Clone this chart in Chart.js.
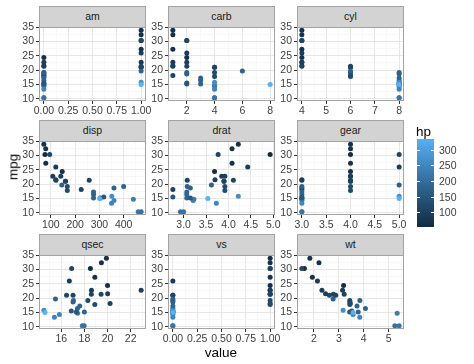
<!DOCTYPE html>
<html><head><meta charset="utf-8">
<script src="https://cdn.jsdelivr.net/npm/chart.js@4/dist/chart.umd.min.js"></script>
<style>
body{margin:0;background:#fff;}
#root{position:relative;width:474px;height:364px;overflow:hidden;font-family:"Liberation Sans",Arial,sans-serif;}
canvas{position:absolute;left:0;top:0;}
.strip{position:absolute;background:#D3D3D3;border:1px solid #A3A3A3;box-sizing:border-box;color:#1A1A1A;font-size:10.5px;text-align:center;line-height:19px;}
.lbl{position:absolute;white-space:nowrap;}
</style></head><body>
<div id="root"></div>
<script>
// ---- mtcars data ----
const mpg  = [21.0,21.0,22.8,21.4,18.7,18.1,14.3,24.4,22.8,19.2,17.8,16.4,17.3,15.2,10.4,10.4,14.7,32.4,30.4,33.9,21.5,15.5,15.2,13.3,19.2,27.3,26.0,30.4,15.8,19.7,15.0,21.4];
const cyl  = [6,6,4,6,8,6,8,4,4,6,6,8,8,8,8,8,8,4,4,4,4,8,8,8,8,4,4,4,8,6,8,4];
const disp = [160,160,108,258,360,225,360,146.7,140.8,167.6,167.6,275.8,275.8,275.8,472,460,440,78.7,75.7,71.1,120.1,318,304,350,400,79,120.3,95.1,351,145,301,121];
const hp   = [110,110,93,110,175,105,245,62,95,123,123,180,180,180,205,215,230,66,52,65,97,150,150,245,175,66,91,113,264,175,335,109];
const drat = [3.90,3.90,3.85,3.08,3.15,2.76,3.21,3.69,3.92,3.92,3.92,3.07,3.07,3.07,2.93,3.00,3.23,4.08,4.93,4.22,3.70,2.76,3.15,3.73,3.08,4.08,4.43,3.77,4.22,3.62,3.54,4.11];
const wt   = [2.620,2.875,2.320,3.215,3.440,3.460,3.570,3.190,3.150,3.440,3.440,4.070,3.730,3.780,5.250,5.424,5.345,2.200,1.615,1.835,2.465,3.520,3.435,3.840,3.845,1.935,2.140,1.513,3.170,2.770,3.570,2.780];
const qsec = [16.46,17.02,18.61,19.44,17.02,20.22,15.84,20.00,22.90,18.30,18.90,17.40,17.60,18.00,17.98,17.82,17.42,19.47,18.52,19.90,20.01,16.87,17.30,15.41,17.05,18.90,16.70,16.90,14.50,15.50,14.60,18.60];
const vs   = [0,0,1,1,0,1,0,1,1,1,1,0,0,0,0,0,0,1,1,1,1,0,0,0,0,1,0,1,0,0,0,1];
const am   = [1,1,1,0,0,0,0,0,0,0,0,0,0,0,0,0,0,1,1,1,0,0,0,0,0,1,1,1,1,1,1,1];
const gear = [4,4,4,3,3,3,3,4,4,4,4,3,3,3,3,3,3,4,4,4,3,3,3,3,3,4,5,5,5,5,5,4];
const carb = [4,4,1,1,2,1,4,2,2,4,4,3,3,3,4,4,4,1,2,1,1,2,2,4,2,1,2,2,4,6,8,2];

const facetNames = ['am','carb','cyl','disp','drat','gear','qsec','vs','wt'];
// tick labels per facet
const amTicks   = ['0.00','0.25','0.50','0.75','1.00'];
const carbTicks = ['2','4','6','8'];
const cylTicks  = ['4','5','6','7','8'];
const dispTicks = ['100','200','300','400'];
const dratTicks = ['3.0','3.5','4.0','4.5','5.0'];
const gearTicks = ['3.0','3.5','4.0','4.5','5.0'];
const qsecTicks = ['16','18','20','22'];
const vsTicks   = ['0.00','0.25','0.50','0.75','1.00'];
const wtTicks   = ['2','3','4','5'];
const yTicks    = ['10','15','20','25','30','35'];
const hpTicks   = ['100','150','200','250','300'];

const facetData = {am, carb, cyl, disp, drat, gear, qsec, vs, wt};
const facetTicks = {am:amTicks, carb:carbTicks, cyl:cylTicks, disp:dispTicks, drat:dratTicks, gear:gearTicks, qsec:qsecTicks, vs:vsTicks, wt:wtTicks};

// ---- colour scale (ggplot2 default: #132B43 -> #56B1F7 in CIELAB) ----
function hex2rgb(h){return [parseInt(h.slice(1,3),16),parseInt(h.slice(3,5),16),parseInt(h.slice(5,7),16)];}
function rgb2lab(c){
  const lin=c.map(v=>{v/=255;return v<=0.04045?v/12.92:Math.pow((v+0.055)/1.055,2.4);});
  const X=(0.4124564*lin[0]+0.3575761*lin[1]+0.1804375*lin[2])/0.95047;
  const Y=(0.2126729*lin[0]+0.7151522*lin[1]+0.0721750*lin[2]);
  const Z=(0.0193339*lin[0]+0.1191920*lin[1]+0.9503041*lin[2])/1.08883;
  const f=t=>t>0.008856?Math.cbrt(t):7.787*t+16/116;
  const fx=f(X),fy=f(Y),fz=f(Z);
  return [116*fy-16,500*(fx-fy),200*(fy-fz)];
}
function lab2rgb(l){
  const fy=(l[0]+16)/116, fx=fy+l[1]/500, fz=fy-l[2]/200;
  const inv=f=>{const c=f*f*f;return c>0.008856?c:(f-16/116)/7.787;};
  const X=inv(fx)*0.95047, Y=inv(fy), Z=inv(fz)*1.08883;
  const r=3.2404542*X-1.5371385*Y-0.4985314*Z;
  const g=-0.9692660*X+1.8760108*Y+0.0415560*Z;
  const b=0.0556434*X-0.2040259*Y+1.0572252*Z;
  const gm=c=>{c=c<=0.0031308?12.92*c:1.055*Math.pow(c,1/2.4)-0.055;return Math.round(Math.max(0,Math.min(1,c))*255);};
  return 'rgb('+gm(r)+','+gm(g)+','+gm(b)+')';
}
const labLo=rgb2lab(hex2rgb('#132B43')), labHi=rgb2lab(hex2rgb('#56B1F7'));
const hpMin=Math.min(...hp), hpMax=Math.max(...hp);
function hpColor(v){const t=(v-hpMin)/(hpMax-hpMin);return lab2rgb(labLo.map((a,i)=>a+(labHi[i]-a)*t));}

// ---- layout ----
const W=474,H=364;
const colLeft=[39,168,297], panelW=107;
const stripTop=[6,120,234], stripH=21, panelH=74;
const yAxisW=24, xAxisH=14;
Chart.defaults.font.family='"Liberation Sans", Arial, sans-serif';

const root=document.getElementById('root');
function yr(){const lo=Math.min(...mpg),hi=Math.max(...mpg),e=(hi-lo)*0.05;return [lo-e,hi+e];}
const [yMin,yMax]=yr();

function buildTicks(majors, lo, hi){
  const step=majors.length>1?majors[1]-majors[0]:1;
  const out=[];
  majors.forEach(v=>out.push({value:v,minor:false}));
  for(let v=majors[0]-step/2; v<=majors[majors.length-1]+step/2+1e-9; v+=step){
    if(v>=lo-1e-9&&v<=hi+1e-9) out.push({value:+v.toFixed(6),minor:true});
  }
  return out.sort((a,b)=>a.value-b.value);
}

const borderPlugin={id:'pborder',afterDraw(chart){const a=chart.chartArea,c=chart.ctx;c.save();c.strokeStyle='#A3A3A3';c.lineWidth=1;c.strokeRect(a.left+0.5,a.top+0.5,a.right-a.left-1,a.bottom-a.top-1);c.restore();}};

facetNames.forEach((name,i)=>{
  const col=i%3,row=Math.floor(i/3);
  const left=colLeft[col], top=stripTop[row]+stripH, right=left+panelW, bottom=top+panelH;
  // strip
  const s=document.createElement('div');s.className='strip';
  s.style.left=left+'px';s.style.top=stripTop[row]+'px';s.style.width=panelW+'px';s.style.height=(stripH+1)+'px';
  s.textContent=name;root.appendChild(s);
  const xs=facetData[name];
  const lo=Math.min(...xs),hi=Math.max(...xs),e=(hi-lo)*0.05;
  const xMin=lo-e,xMax=hi+e;
  const xMaj=facetTicks[name].map(Number);
  const yMaj=yTicks.map(Number);
  const cv=document.createElement('canvas');cv.width=W;cv.height=H;root.appendChild(cv);
  const pts=xs.map((x,k)=>({x:x,y:mpg[k]}));
  const cols=hp.map(hpColor);
  const xLabel=(v)=>{const idx=xMaj.findIndex(m=>Math.abs(m-v)<1e-9);return idx>=0?facetTicks[name][idx]:'';};
  const yLabel=(v)=>{const idx=yMaj.findIndex(m=>Math.abs(m-v)<1e-9);return idx>=0?yTicks[idx]:'';};
  new Chart(cv,{
    type:'scatter',
    data:{datasets:[{data:pts,pointBackgroundColor:cols,pointBorderWidth:0,pointRadius:2.5,pointHoverRadius:2.5}]},
    options:{
      responsive:false,animation:false,devicePixelRatio:1,
      layout:{padding:{left:left-yAxisW,top:top,right:W-right,bottom:H-bottom-xAxisH}},
      plugins:{legend:{display:false},tooltip:{enabled:false}},
      events:[],
      scales:{
        x:{type:'linear',min:xMin,max:xMax,
          afterBuildTicks:(sc)=>{sc.ticks=buildTicks(xMaj,xMin,xMax);},
          afterFit:(sc)=>{sc.height=xAxisH;sc.paddingLeft=0;sc.paddingRight=0;sc.paddingTop=0;sc.paddingBottom=0;},
          border:{display:false},
          grid:{color:(c)=>c.tick&&c.tick.minor?'#F3F3F3':'#E6E6E6',lineWidth:(c)=>c.tick&&c.tick.minor?0.6:1,
                tickColor:(c)=>c.tick&&c.tick.minor?'rgba(0,0,0,0)':'#333333',tickLength:3,tickWidth:1},
          ticks:{autoSkip:false,maxRotation:0,minRotation:0,padding:1,color:'#404040',font:{size:10.5},
                 callback:(v)=>xLabel(v)}
        },
        y:{type:'linear',min:yMin,max:yMax,
          afterBuildTicks:(sc)=>{sc.ticks=buildTicks(yMaj,yMin,yMax);},
          afterFit:(sc)=>{sc.width=yAxisW;sc.paddingLeft=0;sc.paddingRight=0;sc.paddingTop=0;sc.paddingBottom=0;},
          border:{display:false},
          grid:{color:(c)=>c.tick&&c.tick.minor?'#F3F3F3':'#E6E6E6',lineWidth:(c)=>c.tick&&c.tick.minor?0.6:1,
                tickColor:(c)=>c.tick&&c.tick.minor?'rgba(0,0,0,0)':'#333333',tickLength:3,tickWidth:1},
          ticks:{autoSkip:false,padding:2,color:'#404040',font:{size:10.5},
                 callback:(v)=>yLabel(v)}
        }
      }
    },
    plugins:[borderPlugin]
  });
});

// axis titles
function addLabel(txt,x,y,size,extra){const d=document.createElement('div');d.className='lbl';d.textContent=txt;
  d.style.fontSize=size+'px';d.style.color='#000';d.style.left=x+'px';d.style.top=y+'px';
  if(extra)Object.assign(d.style,extra);root.appendChild(d);return d;}
addLabel('value',221,345,13.5,{transform:'translateX(-50%)'});
addLabel('mpg',13,167,13.5,{transform:'translate(-50%,-50%) rotate(-90deg)'});

// colour bar legend
addLabel('hp',416,124,13.5);
const barL=417,barT=139,barW=17,barH=88;
const stops=[];for(let k=0;k<=20;k++){stops.push(hpColor(hpMin+(hpMax-hpMin)*k/20)+' '+(k*5)+'%');}
const bar=document.createElement('div');
Object.assign(bar.style,{position:'absolute',left:barL+'px',top:barT+'px',width:barW+'px',height:barH+'px',background:'linear-gradient(to top,'+stops.join(',')+')'});
root.appendChild(bar);
hpTicks.forEach(t=>{
  const v=Number(t);const y=barT+barH-(v-hpMin)/(hpMax-hpMin)*barH;
  [0,barW-3].forEach(dx=>{const tk=document.createElement('div');
    Object.assign(tk.style,{position:'absolute',left:(barL+dx)+'px',top:(Math.round(y)-0.5)+'px',width:'3px',height:'1px',background:'#fff'});root.appendChild(tk);});
  addLabel(t,439,y,10.5,{color:'#404040',transform:'translateY(-50%)'});
});
</script>
</body></html>
